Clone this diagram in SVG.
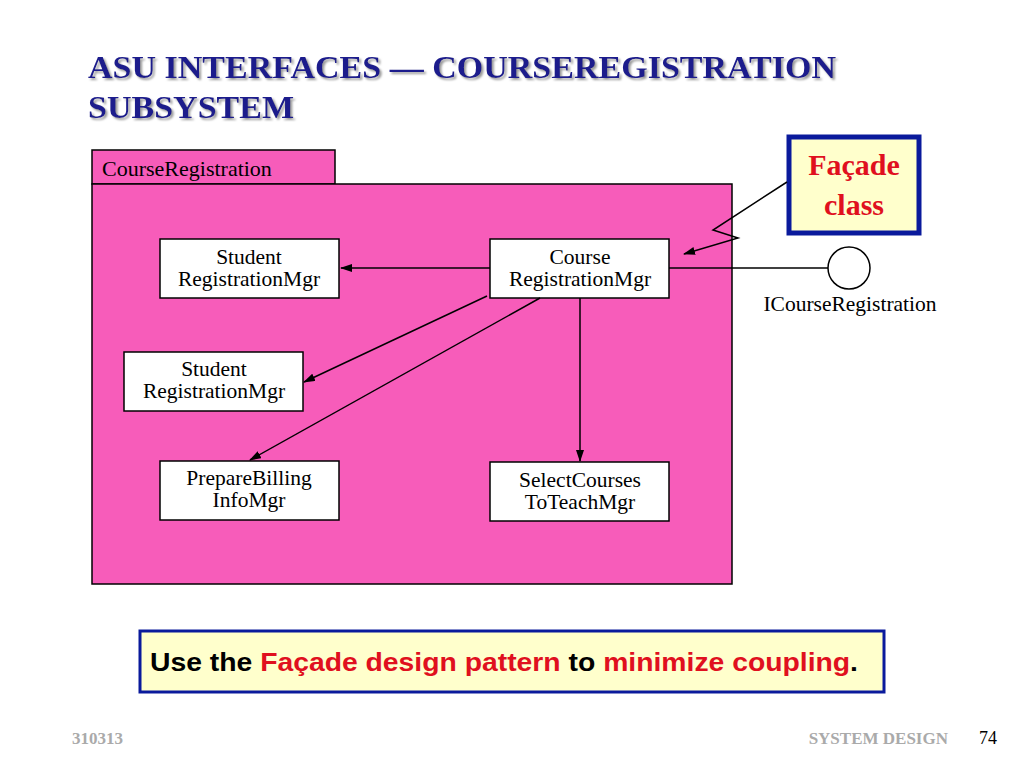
<svg xmlns="http://www.w3.org/2000/svg" width="1024" height="768" viewBox="0 0 1024 768">
<defs>
<marker id="ah" markerWidth="12" markerHeight="8" refX="11" refY="4" orient="auto" markerUnits="userSpaceOnUse"><path d="M0,0 L12,4 L0,8 Z" fill="#000"/></marker>
<filter id="sh" x="-5%" y="-20%" width="110%" height="140%"><feDropShadow dx="2" dy="2" stdDeviation="1" flood-color="#999"/></filter>
</defs>
<style>
.t{font-family:"Liberation Serif",serif;font-size:21.5px;fill:#000;text-anchor:middle}
.box{fill:#fff;stroke:#000;stroke-width:1.5}
.ln{stroke:#000;stroke-width:1.5;fill:none}
</style>
<rect width="1024" height="768" fill="#fff"/>
<g filter="url(#sh)" font-family="Liberation Serif,serif" font-weight="bold" font-size="32" fill="#1a1a8c">
<text x="88" y="78" textLength="748" lengthAdjust="spacingAndGlyphs">ASU INTERFACES — COURSEREGISTRATION</text>
<text x="88" y="118" textLength="206" lengthAdjust="spacingAndGlyphs">SUBSYSTEM</text>
</g>
<g id="package">
<rect x="92" y="150" width="243" height="34" fill="#f75cba" stroke="#000" stroke-width="1.5"/>
<rect x="92" y="184" width="640" height="400" fill="#f75cba" stroke="#000" stroke-width="1.5"/>
<text x="102" y="176" font-family="Liberation Serif,serif" font-size="22">CourseRegistration</text>
</g>
<g id="n1"><rect class="box" x="160" y="239" width="179" height="59"/><text class="t" x="249" y="264">Student</text><text class="t" x="249" y="286">RegistrationMgr</text></g>
<g id="n2"><rect class="box" x="490" y="239" width="179" height="59"/><text class="t" x="580" y="264">Course</text><text class="t" x="580" y="286">RegistrationMgr</text></g>
<g id="n3"><rect class="box" x="124" y="352" width="179" height="59"/><text class="t" x="214" y="376">Student</text><text class="t" x="214" y="398">RegistrationMgr</text></g>
<g id="n4"><rect class="box" x="160" y="461" width="179" height="59"/><text class="t" x="249" y="485">PrepareBilling</text><text class="t" x="249" y="507">InfoMgr</text></g>
<g id="n5"><rect class="box" x="490" y="462" width="179" height="59"/><text class="t" x="580" y="487">SelectCourses</text><text class="t" x="580" y="509">ToTeachMgr</text></g>
<g id="iface"><circle cx="849" cy="268" r="21" fill="#fff" stroke="#000" stroke-width="1.5"/><text class="t" x="850" y="311">ICourseRegistration</text></g>
<g id="facade"><rect x="789" y="137" width="130" height="96" fill="#ffffcc" stroke="#0a1a9c" stroke-width="5"/>
<text x="854" y="175" font-family="Liberation Serif,serif" font-weight="bold" font-size="30" fill="#e0101e" text-anchor="middle">Façade</text>
<text x="854" y="215" font-family="Liberation Serif,serif" font-weight="bold" font-size="30" fill="#e0101e" text-anchor="middle">class</text></g>
<g id="connectors">
<line class="ln" x1="490" y1="268" x2="341" y2="268" marker-end="url(#ah)"/>
<line class="ln" x1="669" y1="268" x2="828" y2="268"/>
<line class="ln" x1="487" y1="296" x2="304" y2="382" marker-end="url(#ah)"/>
<line class="ln" x1="540" y1="298" x2="250" y2="460" marker-end="url(#ah)"/>
<line class="ln" x1="580" y1="298" x2="580" y2="461" marker-end="url(#ah)"/>
<polyline class="ln" points="787,182 713,230 738,238 684,254" marker-end="url(#ah)"/>
</g>
<g id="note"><rect x="140" y="631" width="744" height="61" fill="#ffffcc" stroke="#0a1a9c" stroke-width="3"/>
<text x="150" y="671" font-family="Liberation Sans,sans-serif" font-weight="bold" font-size="25" textLength="708" lengthAdjust="spacingAndGlyphs">Use the <tspan fill="#e0101e">Façade design pattern</tspan> to <tspan fill="#e0101e">minimize coupling</tspan>.</text></g>
<text x="72" y="744" font-family="Liberation Serif,serif" font-weight="bold" font-size="17" fill="#aaa">310313</text>
<text x="948" y="744" font-family="Liberation Serif,serif" font-weight="bold" font-size="17" fill="#aaa" text-anchor="end">SYSTEM DESIGN</text>
<text x="988" y="744" font-family="Liberation Serif,serif" font-size="18" text-anchor="middle">74</text>
</svg>
